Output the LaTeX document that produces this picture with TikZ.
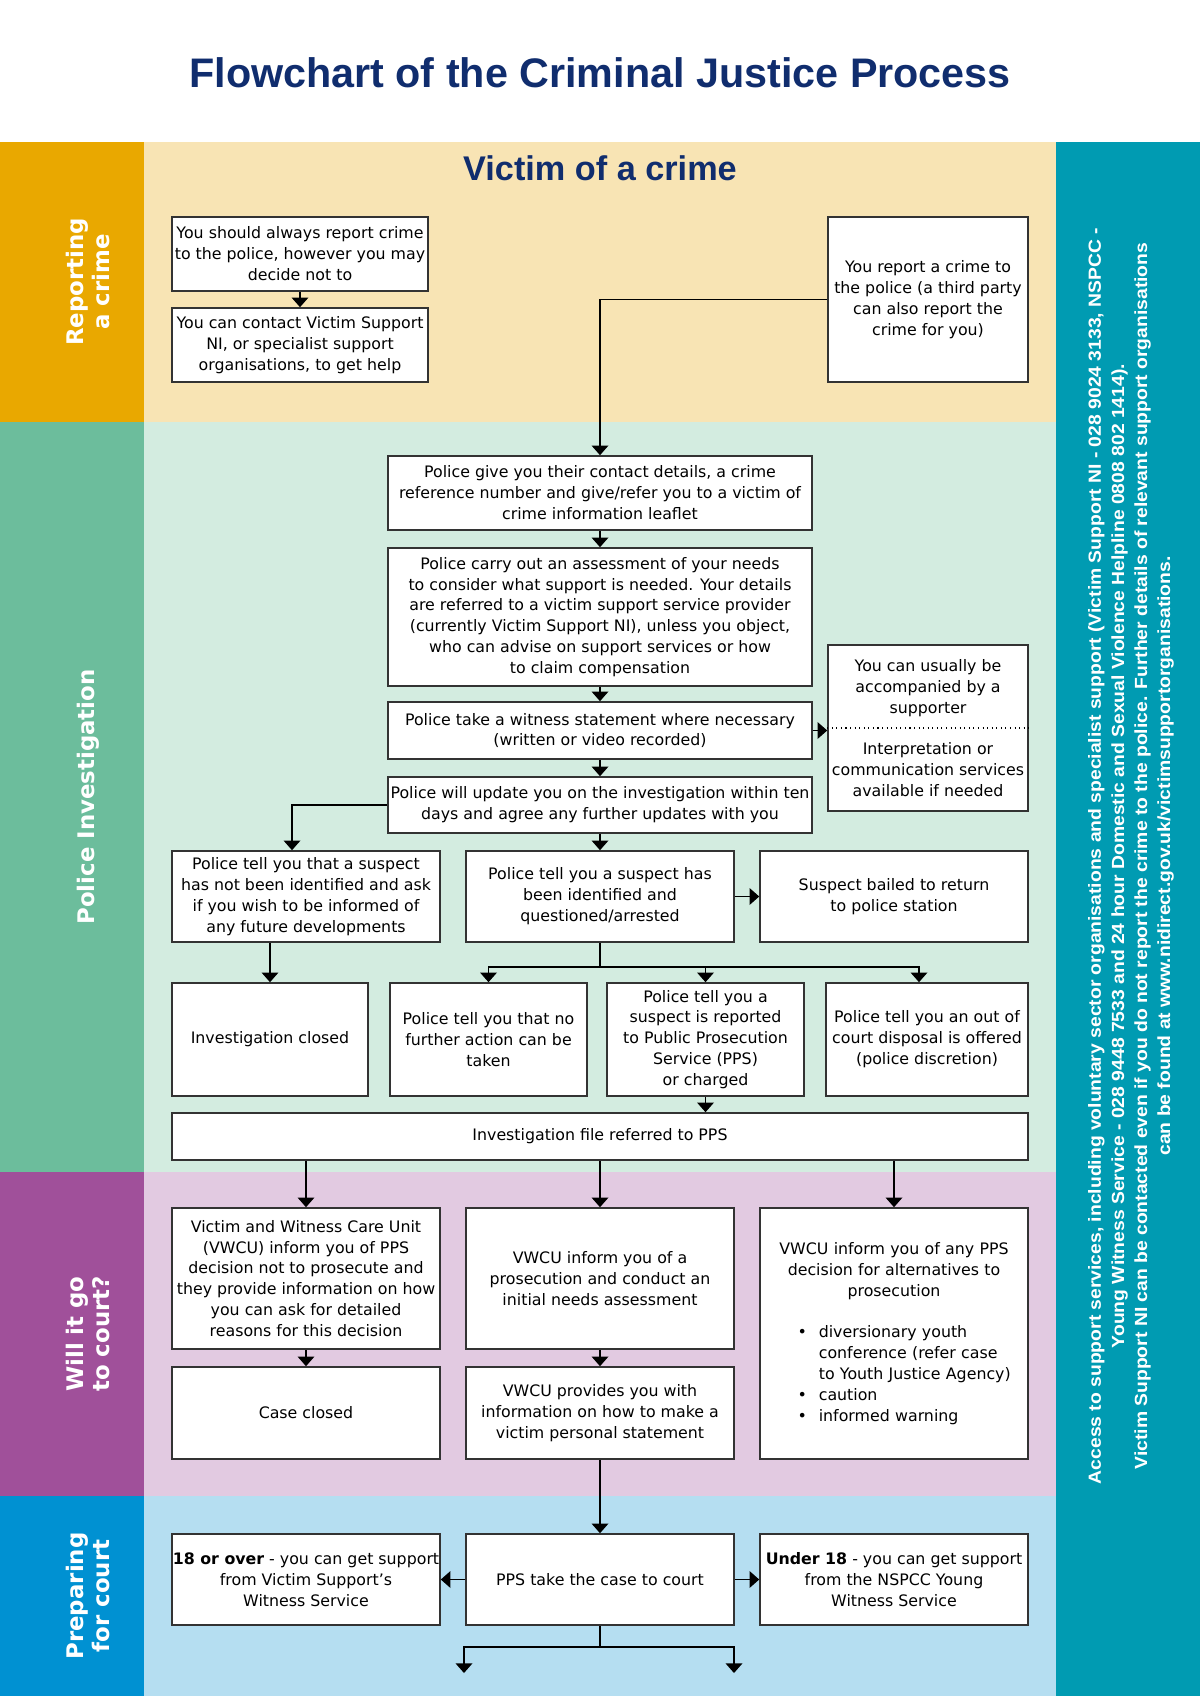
\documentclass[tikz,border=0pt]{standalone}
\usepackage{fontspec}
\setmainfont{DejaVu Sans}
\newfontfamily\headfont{Liberation Sans}
\newfontfamily\infofont[FakeStretch=1.1]{Liberation Sans}
\usetikzlibrary{arrows.meta}
\definecolor{titleblue}{RGB}{16,45,110}
\definecolor{repband}{RGB}{233,168,0}
\definecolor{repfill}{RGB}{248,228,180}
\definecolor{polband}{RGB}{108,189,156}
\definecolor{polfill}{RGB}{211,236,224}
\definecolor{courtband}{RGB}{160,80,154}
\definecolor{courtfill}{RGB}{226,202,225}
\definecolor{prepband}{RGB}{0,145,210}
\definecolor{prepfill}{RGB}{181,222,241}
\definecolor{infoband}{RGB}{0,155,178}
\newcommand\flowfont{\fontsize{9}{11.9}\selectfont}
\newcommand\altitem{\noindent\llap{\makebox[12pt][l]{\textbullet}}}

\begin{document}
\begin{tikzpicture}[x=0.02cm,y=-0.02cm,
 box/.style={draw=black!80,line width=0.9pt,fill=white,align=center,font=\flowfont,inner xsep=1.5pt,inner ysep=2pt},
 sz/.style 2 args={minimum width=#1*0.02cm,minimum height=#2*0.02cm},
 arr/.style={-{Triangle[width=9.5pt,length=5.5pt]},line width=0.75pt},
 link/.style={line width=0.75pt},
 bandlabel/.style={rotate=90,text=white,align=center,font=\fontsize{13}{15}\selectfont\bfseries}]
\useasboundingbox (0,0) rectangle (1200,1696);
% stage bands
\foreach \ya/\yb/\cb/\cf/\lab in {142/422/repband/repfill/{Reporting\\a crime},
  422/1172/polband/polfill/{Police Investigation},
  1172/1496/courtband/courtfill/{Will it go\\to court?},
  1496/1696/prepband/prepfill/{Preparing\\for court}}{
  \fill[\cf] (144,\ya) rectangle (1056,\yb);
  \fill[\cb] (0,\ya) rectangle (144,\yb);
  \node[bandlabel] (band\ya) at (88,{(\ya+\yb)/2}) {\lab};
}
\fill[infoband] (1056,142) rectangle (1200,1696);
\node[rotate=90,text=white,align=center,font=\infofont\fontsize{10}{13.1}\selectfont\bfseries] (info) at (1131,856)
 {Access to support services, including voluntary sector organisations and specialist support (Victim Support NI - 028 9024 3133,  NSPCC -\\
  Young Witness Service - 028 9448 7533 and 24 hour Domestic and Sexual Violence Helpline 0808 802 1414).\\
  Victim Support NI can be contacted even if you do not report the crime to the police. Further details of relevant support organisations\\
  can be found at www.nidirect.gov.uk/victimsupportorganisations.};

\node[text=titleblue,font=\headfont\fontsize{23.5}{28}\selectfont\bfseries] (title) at (600,73) {Flowchart of the Criminal Justice Process};
\node[text=titleblue,font=\headfont\fontsize{19.5}{24}\selectfont\bfseries] (victim) at (600,168) {Victim of a crime};

% reporting
\node[box,sz={256}{74},inner xsep=1pt] (should) at (300,254) {You should always report crime\\to the police, however you may\\decide not to};
\node[box,sz={256}{74}] (contact) at (300,345) {You can contact Victim Support\\NI, or specialist support\\organisations, to get help};
\node[box,sz={200}{165}] (report) at (928,299.5) {You report a crime to\\the police (a third party\\can also report the\\crime for you)};

% police investigation
\node[box,sz={424}{74}] (give) at (600,493) {Police give you their contact details, a crime\\reference number and give/refer you to a victim of\\crime information leaflet};
\node[box,sz={424}{138}] (assess) at (600,617) {Police carry out an assessment of your needs\\to consider what support is needed. Your details\\are referred to a victim support service provider\\(currently Victim Support NI), unless you object,\\who can advise on support services or how\\to claim compensation};
\node[box,sz={424}{57}] (witness) at (600,730.5) {Police take a witness statement where necessary\\(written or video recorded)};
\node[box,sz={424}{56}] (update) at (600,805) {Police will update you on the investigation within ten\\days and agree any further updates with you};
\node[box,sz={200}{166},inner xsep=1pt] (accomp) at (928,728) {You can usually be\\accompanied by a\\supporter\\[11.6pt]Interpretation or\\communication services\\available if needed};
\draw[dotted,line width=0.6pt] (accomp.west) -- (accomp.east);

\node[box,sz={268}{91}] (notid) at (306,896.5) {Police tell you that a suspect\\has not been identified and ask\\if you wish to be informed of\\any future developments};
\node[box,sz={268}{91}] (ident) at (600,896.5) {Police tell you a suspect has\\been identified and\\questioned/arrested};
\node[box,sz={268}{91}] (bailed) at (894,896.5) {Suspect bailed to return\\to police station};

\node[box,sz={196}{113}] (closed) at (270,1039.5) {Investigation closed};
\node[box,sz={197}{113}] (nfa) at (488.5,1039.5) {Police tell you that no\\further action can be\\taken};
\node[box,sz={197}{113}] (ppsrep) at (705.5,1039.5) {Police tell you a\\suspect is reported\\to Public Prosecution\\Service (PPS)\\or charged};
\node[box,sz={202}{113},inner xsep=1pt] (ooc) at (927,1039.5) {Police tell you an out of\\court disposal is offered\\(police discretion)};
\node[box,sz={856}{47}] (file) at (600,1136.5) {Investigation file referred to PPS};

% will it go to court
\node[box,sz={268}{141},inner xsep=0.5pt] (vwcu) at (306,1278.5) {Victim and Witness Care Unit\\(VWCU) inform you of PPS\\decision not to prosecute and\\they provide information on how\\you can ask for detailed\\reasons for this decision};
\node[box,sz={268}{141}] (pros) at (600,1278.5) {VWCU inform you of a\\prosecution and conduct an\\initial needs assessment};
\node[box,sz={268}{251},inner xsep=1.75pt,text width=149pt,align=left] (alt) at (894,1333.5)
 {{\centering VWCU inform you of any PPS\\decision for alternatives to\\prosecution\par}
  \vspace{11.9pt}
  {\raggedright\leftskip=31.7pt
  \altitem diversionary youth\\conference (refer case\\to Youth Justice Agency)\par
  \altitem caution\par
  \altitem informed warning\par}};
\node[box,sz={268}{92}] (cclosed) at (306,1413) {Case closed};
\node[box,sz={268}{92}] (vps) at (600,1413) {VWCU provides you with\\information on how to make a\\victim personal statement};

% preparing for court
\node[box,sz={268}{91},inner xsep=0pt] (over18) at (306,1579.5) {\textbf{18 or over} - you can get support\\from Victim Support’s\\Witness Service};
\node[box,sz={268}{91}] (court) at (600,1579.5) {PPS take the case to court};
\node[box,sz={268}{91}] (under18) at (894,1579.5) {\textbf{Under 18} - you can get support\\from the NSPCC Young\\Witness Service};

% connectors
\draw[arr] (should) -- (contact);
\draw[arr] (report.west) -| (give.north);
\draw[arr] (give) -- (assess);
\draw[arr] (assess) -- (witness);
\draw[arr] (witness) -- (update);
\draw[arr] (witness.east) -- (witness.east -| accomp.west);
\draw[arr] (update.west) -| ([xshift=-0.28cm]notid.north);
\draw[arr] (update) -- (ident);
\draw[arr] (ident) -- (bailed);
\draw[arr] (notid.south -| closed.north) -- (closed.north);
\coordinate (split) at (600,967);
\draw[link] (ident.south) -- (split);
\draw[arr] (split) -| (nfa.north);
\draw[arr] (split) -| (ppsrep.north);
\draw[arr] (split) -| ([xshift=-0.16cm]ooc.north);
\draw[arr] (ppsrep.south) -- (ppsrep.south |- file.north);
\foreach \b in {vwcu,pros,alt}
  \draw[arr] (file.south -| \b.north) -- (\b.north);
\draw[arr] (vwcu) -- (cclosed);
\draw[arr] (pros) -- (vps);
\draw[arr] (vps) -- (court);
\draw[arr] (court) -- (over18);
\draw[arr] (court) -- (under18);
\coordinate (split2) at (600,1647);
\coordinate (outL) at (464,1673);
\coordinate (outR) at (734,1673);
\draw[link] (court.south) -- (split2);
\draw[arr] (split2) -| (outL);
\draw[arr] (split2) -| (outR);
\end{tikzpicture}
\end{document}
